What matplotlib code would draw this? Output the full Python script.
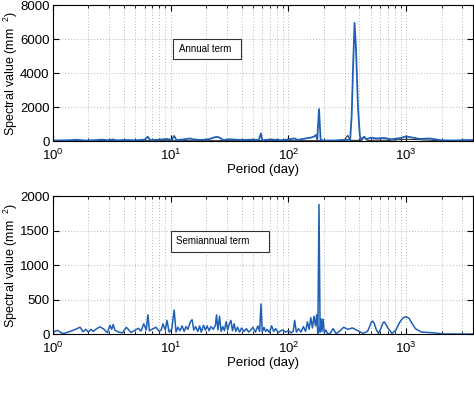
"""
Espectro de amplitude - termos anual e semianual
"""

import matplotlib
matplotlib.use('Agg')
import matplotlib.pyplot as plt
from matplotlib.patches import Rectangle

plt.rcParams['font.family'] = ['Liberation Sans', 'DejaVu Sans']
plt.rcParams['mathtext.fontset'] = 'custom'
plt.rcParams['mathtext.rm'] = 'Liberation Sans'

# Dados (periodo em dias, valor espectral em mm^2)
annual_period = [1.0, 1.3, 1.6, 1.9, 2.3, 2.6, 3.0, 3.2, 3.5, 4.2,
                 5.0, 6.0, 6.4, 6.7, 8.0, 9.3, 10.2, 10.7, 11.2, 13.0,
                 14.7, 15.5, 18.0, 21.0, 24.5, 26.0, 28.0, 32.0, 40.0, 50.0,
                 56.0, 58.5, 60.0, 70.0, 90.0, 113.0, 120.0, 140.0, 155.0, 165.0,
                 172.0, 176.0, 182.0, 188.0, 200.0, 250.0, 300.0, 325.0, 335.0, 345.0,
                 355.0, 365.0, 375.0, 390.0, 405.0, 415.0, 440.0, 460.0, 500.0, 560.0,
                 650.0, 750.0, 900.0, 1000.0, 1100.0, 1300.0, 1600.0, 2000.0, 2500.0, 3000.0,
                 3700.0]
annual_value = [30, 40, 70, 30, 50, 80, 40, 90, 40, 60,
                40, 80, 250, 50, 80, 120, 60, 300, 50, 100,
                150, 100, 60, 100, 250, 200, 60, 100, 60, 80,
                60, 450, 40, 90, 50, 150, 60, 150, 200, 260,
                350, 100, 1880, 60, 30, 30, 60, 60, 100, 1500,
                4500, 6950, 5500, 2000, 300, 80, 250, 100, 200, 150,
                180, 100, 180, 270, 220, 120, 150, 40, 30, 50,
                60]

# curva escura sob a azul
ref_period = [1.0, 10.0, 100.0, 250.0, 300.0, 320.0, 335.0, 420.0, 440.0, 470.0,
              550.0, 700.0, 1000.0, 1300.0, 2000.0, 3700.0]
ref_value = [10, 20, 20, 20, 80, 330, 40, 40, 250, 30,
             50, 40, 100, 80, 10, 5]

semi_period = [1.0, 1.05, 1.1, 1.15, 1.22, 1.35, 1.5, 1.7, 1.8, 1.9,
               2.0, 2.1, 2.2, 2.35, 2.5, 2.7, 2.9, 3.05, 3.15, 3.25,
               3.35, 3.6, 3.9, 4.2, 4.6, 5.0, 5.3, 5.6, 5.9, 6.2,
               6.4, 6.6, 7.0, 7.5, 8.0, 8.3, 8.6, 9.0, 9.3, 9.7,
               10.2, 10.7, 11.1, 11.5, 12.0, 12.5, 13.0, 13.5, 14.0, 14.7,
               15.2, 15.7, 16.3, 17.0, 17.6, 18.2, 19.0, 19.7, 20.4, 21.2,
               22.0, 23.0, 24.0, 24.5, 25.2, 26.0, 26.8, 27.7, 28.6, 29.6,
               30.5, 31.5, 32.5, 33.5, 34.6, 35.7, 37.0, 38.5, 40.0, 42.0,
               44.0, 46.0, 48.0, 50.0, 52.5, 55.0, 57.0, 58.5, 60.0, 62.0,
               64.0, 66.0, 69.0, 72.0, 75.0, 78.0, 82.0, 86.0, 90.0, 95.0,
               100.0, 105.0, 110.0, 113.0, 117.0, 122.0, 128.0, 134.0, 140.0, 145.0,
               150.0, 155.0, 160.0, 165.0, 170.0, 174.0, 178.0, 182.0, 186.0, 190.0,
               193.0, 197.0, 202.0, 208.0, 215.0, 225.0, 240.0, 255.0, 275.0, 295.0,
               320.0, 350.0, 390.0, 430.0, 470.0, 490.0, 505.0, 520.0, 535.0, 555.0,
               580.0, 610.0, 635.0, 650.0, 670.0, 700.0, 760.0, 820.0, 880.0, 940.0,
               1000.0, 1060.0, 1120.0, 1200.0, 1350.0, 1550.0, 1800.0, 2100.0, 2500.0, 3000.0,
               3700.0]
semi_value = [20, 45, 55, 30, 8, 30, 60, 100, 35, 70,
              30, 70, 40, 80, 105, 75, 20, 130, 70, 140,
              60, 30, 20, 100, 25, 60, 85, 45, 150, 60,
              280, 50, 75, 100, 40, 60, 150, 60, 200, 30,
              70, 350, 30, 100, 50, 120, 40, 110, 70, 180,
              210, 60, 110, 40, 120, 30, 130, 60, 120, 50,
              110, 70, 130, 280, 60, 260, 40, 110, 50, 180,
              60, 150, 200, 50, 150, 40, 100, 30, 90, 40,
              80, 30, 60, 100, 30, 120, 40, 440, 30, 100,
              40, 70, 25, 120, 40, 80, 20, 50, 60, 30,
              50, 20, 40, 200, 30, 80, 30, 110, 40, 180,
              70, 240, 90, 260, 120, 280, 0, 1880, 30, 220,
              40, 220, 20, 60, 10, 5, 80, 5, 50, 100,
              70, 90, 50, 10, 40, 110, 170, 190, 160, 80,
              10, 80, 160, 180, 150, 90, 10, 60, 170, 235,
              255, 230, 160, 80, 30, 25, 15, 3, 2, 2,
              2]

LINE_BLUE = '#1f5fb5'
GRID = dict(color='#a0a0a0', linestyle=(0, (1, 2.5)), linewidth=0.6)


def style_axes(ax, ymax, yticks):
    ax.set_xscale('log')
    ax.set_xlim(1, 3700)
    ax.set_ylim(0, ymax)
    ax.set_yticks(yticks)
    ax.tick_params(which='both', direction='in', top=True, right=True,
                   labelsize=9.5, pad=2.5)
    ax.tick_params(axis='x', which='both', pad=5)
    ax.tick_params(which='major', length=4)
    ax.tick_params(which='minor', length=2)
    ax.grid(True, which='both', axis='x', **GRID)
    ax.grid(True, which='major', axis='y', **GRID)
    ax.set_xlabel('Period (day)', fontsize=9.5, labelpad=0.5)
    ax.set_ylabel('Spectral value (mm  $^{2}$)', fontsize=9)
    ax.yaxis.set_label_coords(-0.078, 0.5)
    for sp in ax.spines.values():
        sp.set_linewidth(0.8)


def label_box(ax, x0, y0, w, h, text):
    ax.add_patch(Rectangle((x0, y0), w, h, transform=ax.transAxes,
                           facecolor='white', edgecolor='#333333', linewidth=0.8, zorder=5))
    ax.text(x0 + 0.013, y0 + h / 2, text, transform=ax.transAxes,
            fontsize=7, va='center', ha='left', zorder=6)


fig = plt.figure(figsize=(4.74, 3.95), dpi=100)
ax1 = fig.add_axes([0.1118, 0.643, 0.886, 0.344])
ax2 = fig.add_axes([0.1118, 0.154, 0.886, 0.349])

# Termo anual
ax1.plot(ref_period, ref_value, color='#333333', linewidth=0.8)
ax1.plot(annual_period, annual_value, color=LINE_BLUE, linewidth=1.3)
style_axes(ax1, 8000, [0, 2000, 4000, 6000, 8000])
label_box(ax1, 0.286, 0.603, 0.162, 0.147, 'Annual term')

# Termo semianual
ax2.plot(semi_period, semi_value, color=LINE_BLUE, linewidth=1.1)
style_axes(ax2, 2000, [0, 500, 1000, 1500, 2000])
label_box(ax2, 0.281, 0.597, 0.233, 0.153, 'Semiannual term')

fig.savefig('out.png', dpi=100)
